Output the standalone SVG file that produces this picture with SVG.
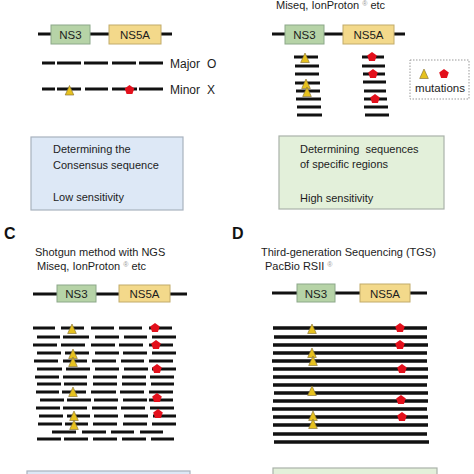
<svg xmlns="http://www.w3.org/2000/svg" width="474" height="474" viewBox="0 0 474 474">
<style>
text{font-family:"Liberation Sans",Arial,sans-serif;fill:#1c1c1c}
.t{font-size:11px}
.lbl{font-size:12px}
.gene{font-size:11.5px;text-anchor:middle}
.pl{font-size:16px;font-weight:bold;fill:#111}
.reg{font-size:7px;fill:#999}
.bb{stroke:#111;stroke-width:3;fill:none}
.rd{stroke:#111;stroke-width:3;fill:none}
.lr{stroke:#111;stroke-width:3.4;fill:none}
.ns3{fill:#b6d3a7;stroke:#8ca889;stroke-width:1}
.ns5{fill:#f3d98b;stroke:#c2ab6a;stroke-width:1}
.boxA{fill:#dde8f6;stroke:#a8b2be;stroke-width:1.2}
.boxB{fill:#e3f0da;stroke:#aab2aa;stroke-width:1.2}
</style>
<defs>
<polygon id="tri" points="0,-5 4.3,4.5 -4.3,4.5" fill="#e6c11e" stroke="#8f7a3a" stroke-width="0.7"/>
<polygon id="pen" points="0,-5 4.8,-1.5 2.9,4 -2.9,4 -4.8,-1.5" fill="#e3101c"/>
</defs>

<!-- Panel A -->
<g id="A-gene">
<path class="bb" d="M38 34H172"/>
<rect class="ns3" x="51" y="25" width="39" height="19"/>
<text class="gene" x="70.5" y="39">NS3</text>
<rect class="ns5" x="109" y="25" width="52" height="19"/>
<text class="gene" x="135" y="39">NS5A</text>
</g>
<g id="A-major">
<path class="rd" d="M42 63H55M57 63H81M84 63H108M112 63H136M139 63H163"/>
<text class="lbl" x="170" y="67.5">Major</text>
<text class="lbl" x="207" y="67.5">O</text>
</g>
<g id="A-minor">
<path class="rd" d="M42 89H55M57 89H81M85 89H108M112 89H137M139 89H163"/>
<use href="#tri" x="69.5" y="90.5"/>
<use href="#pen" x="129.5" y="90"/>
<text class="lbl" x="170" y="93.5">Minor</text>
<text class="lbl" x="207" y="93.5">X</text>
</g>
<g id="A-box">
<rect class="boxA" x="31" y="137" width="152" height="73"/>
<text class="t" x="53" y="153">Determining the</text>
<text class="t" x="53" y="168.5">Consensus sequence</text>
<text class="t" x="53" y="201">Low sensitivity</text>
</g>

<!-- Panel B -->
<g id="B-title">
<text class="t" x="276" y="9">Miseq, IonProton <tspan class="reg" dy="-3">®</tspan><tspan dy="3"> etc</tspan></text>
</g>
<g id="B-gene">
<path class="bb" d="M272 34H405"/>
<rect class="ns3" x="285" y="25" width="39" height="19"/>
<text class="gene" x="304.5" y="39">NS3</text>
<rect class="ns5" x="343" y="25" width="51" height="19"/>
<text class="gene" x="368.5" y="39">NS5A</text>
</g>
<g id="B-reads">
<path class="rd" d="M294 57H318M295 66H319M295 74H319M295 83H320M296 91H320M296 99H321M297 107H321M297 115H322"/>
<path class="rd" d="M362 57H384M362 66H385M363 74H385M363 82H386M364 91H386M364 99H387M364 107H388M365 115H389"/>
<use href="#tri" x="305" y="58"/>
<use href="#tri" x="306" y="84"/>
<use href="#tri" x="307" y="92"/>
<use href="#pen" x="372" y="57"/>
<use href="#pen" x="373" y="74"/>
<use href="#pen" x="375" y="99"/>
</g>
<g id="B-legend">
<rect x="410" y="60" width="59" height="39" fill="none" stroke="#999" stroke-width="1" stroke-dasharray="1.5,1.5"/>
<use href="#tri" x="424" y="74"/>
<use href="#pen" x="444" y="74"/>
<text x="440" y="92" text-anchor="middle" style="font-size:11.5px">mutations</text>
</g>
<g id="B-box">
<rect class="boxB" x="279" y="136" width="165" height="73"/>
<text class="t" x="300" y="153" xml:space="preserve">Determining  sequences</text>
<text class="t" x="300" y="168">of specific regions</text>
<text class="t" x="300" y="202">High sensitivity</text>
</g>

<!-- Panel C -->
<g id="C-label"><text class="pl" x="4" y="238.5">C</text></g>
<g id="C-title">
<text class="t" x="35" y="256">Shotgun method with NGS</text>
<text class="t" x="37" y="270">Miseq, IonProton <tspan class="reg" dy="-3">®</tspan><tspan dy="3"> etc</tspan></text>
</g>
<g id="C-gene">
<path class="bb" d="M33 294H187"/>
<rect class="ns3" x="57" y="285" width="39" height="17"/>
<text class="gene" x="76.5" y="298">NS3</text>
<rect class="ns5" x="119" y="285" width="51" height="17"/>
<text class="gene" x="144.5" y="298">NS5A</text>
</g>
<g id="C-reads">
<path class="rd" d="M33 328H55M61 328H84M91 328H114M119 328H142M149 328H172
M37 337H60M63 337H89M95 337H119M124 337H147M152 337H176
M33 345H57M61 345H85M91 345H115M119 345H143M149 345H173
M37 353H61M65 353H89M95 353H119M123 353H147M152 353H176
M34 361H58M63 361H87M92 361H116M121 361H144M149 361H173
M37 369H62M66 369H90M95 369H119M124 369H148M152 369H176
M35 377H59M63 377H87M93 377H117M122 377H146M150 377H174
M37 384H61M64 384H87M93 384H117M122 384H146M151 384H174
M36 392H59M62 392H86M91 392H116M120 392H144M149 392H173
M40 400H64M67 400H91M94 400H118M123 400H147M149 400H173
M36 408H60M63 408H87M92 408H117M121 408H145M150 408H174
M39 416H63M67 416H90M94 416H118M124 416H148M153 416H176
M38 424H62M65 424H88M93 424H117M123 424H147M152 424H176
M52 432H76M82 432H106M111 432H134M140 432H163
M37 439H61M64 439H88M93 439H117M122 439H146M151 439H174"/>
<use href="#tri" x="72" y="329"/>
<use href="#tri" x="73" y="354"/>
<use href="#tri" x="73" y="362"/>
<use href="#tri" x="73" y="392"/>
<use href="#tri" x="74" y="416"/>
<use href="#tri" x="74" y="425"/>
<use href="#pen" x="155" y="328"/>
<use href="#pen" x="156" y="345"/>
<use href="#pen" x="157" y="369"/>
<use href="#pen" x="157" y="398"/>
<use href="#pen" x="158" y="414"/>
</g>
<g id="C-box">
<rect class="boxA" x="27" y="471" width="163" height="20"/>
</g>

<!-- Panel D -->
<g id="D-label"><text class="pl" x="232" y="238.5">D</text></g>
<g id="D-title">
<text class="t" x="261" y="256">Third-generation Sequencing (TGS)</text>
<text class="t" x="265" y="270">PacBio RSII <tspan class="reg" dy="-3">®</tspan></text>
</g>
<g id="D-gene">
<path class="bb" d="M272 293H427"/>
<rect class="ns3" x="297" y="284" width="38" height="18"/>
<text class="gene" x="316" y="297.5">NS3</text>
<rect class="ns5" x="360" y="284" width="50" height="18"/>
<text class="gene" x="385" y="297.5">NS5A</text>
</g>
<g id="D-reads">
<path class="lr" d="M273 328H427M274 337H427M273 345H428M273 353H427M272 361H427M273 369H428M273 377H428M273 385H427M274 393H428M273 401H428M272 409H427M273 417H428M273 425H428M273 434H427M274 442H429"/>
<use href="#tri" x="312" y="329"/>
<use href="#tri" x="312" y="353"/>
<use href="#tri" x="313" y="361"/>
<use href="#tri" x="312" y="391"/>
<use href="#tri" x="313" y="416"/>
<use href="#tri" x="313" y="424"/>
<use href="#pen" x="400" y="328"/>
<use href="#pen" x="400" y="345"/>
<use href="#pen" x="402" y="369"/>
<use href="#pen" x="401" y="400"/>
<use href="#pen" x="402" y="417"/>
</g>
<g id="D-box">
<rect class="boxB" x="273" y="468" width="164" height="20"/>
</g>
</svg>
